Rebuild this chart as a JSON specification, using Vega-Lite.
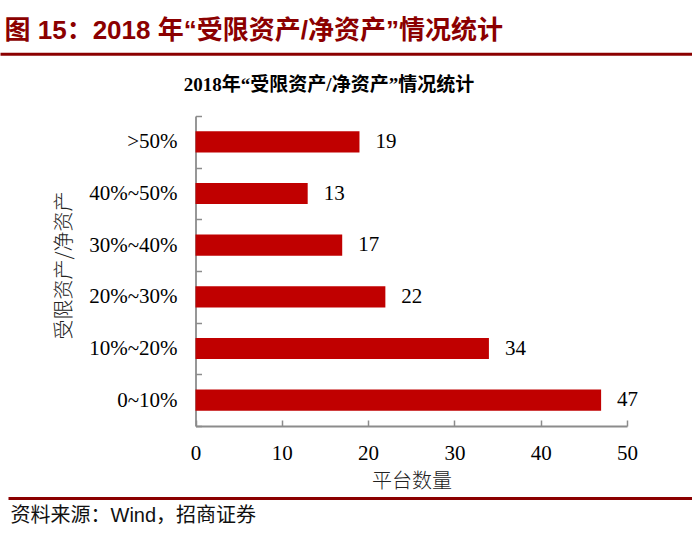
{
  "$schema": "https://vega.github.io/schema/vega-lite/v6.json",
  "width": 692,
  "height": 310,
  "autosize": {"type": "none"},
  "padding": {"top": 116, "bottom": 123, "left": 0, "right": 0},
  "background": "white",
  "config": {"view": {"stroke": null}},
  "data": {
    "values": [
      {"ratio": ">50%", "count": 19},
      {"ratio": "40%~50%", "count": 13},
      {"ratio": "30%~40%", "count": 17},
      {"ratio": "20%~30%", "count": 22},
      {"ratio": "10%~20%", "count": 34},
      {"ratio": "0~10%", "count": 47}
    ]
  },
  "layer": [
    {
      "layer": [
        {
          "mark": {"type": "bar", "color": "#c00000", "height": {"band": 0.41}},
          "encoding": {
            "y": {
              "field": "ratio",
              "type": "nominal",
              "sort": null,
              "scale": {"paddingInner": 0, "paddingOuter": 0},
              "axis": {
                "orient": "left",
                "offset": -195.5,
                "title": "受限资产/净资产",
                "titleFont": "Noto Sans CJK SC",
                "titleFontSize": 20,
                "titleFontWeight": 300,
                "titleColor": "#222222",
                "titleAngle": -90,
                "titleBaseline": "middle",
                "titleAlign": "center",
                "titleX": -131,
                "titleY": 149,
                "labelFont": "Liberation Serif",
                "labelFontSize": 21,
                "labelColor": "#000000",
                "labelPadding": 24.5,
                "tickBand": "extent",
                "tickSize": -6,
                "tickColor": "#8c8c8c",
                "tickWidth": 1.5,
                "domainColor": "#8c8c8c",
                "domainWidth": 1.8,
                "grid": false
              }
            },
            "x": {
              "field": "count",
              "type": "quantitative",
              "scale": {"domain": [0, 50], "range": [195.5, 627], "nice": false},
              "axis": {
                "orient": "bottom",
                "values": [0, 10, 20, 30, 40, 50],
                "title": "平台数量",
                "titleFont": "Noto Sans CJK SC",
                "titleFontSize": 20,
                "titleFontWeight": 300,
                "titleColor": "#222222",
                "titleX": 411.5,
                "titleY": 61,
                "titleBaseline": "alphabetic",
                "titleAlign": "center",
                "labelFont": "Liberation Serif",
                "labelFontSize": 21,
                "labelColor": "#000000",
                "labelPadding": 22,
                "labelFlush": false,
                "tickSize": -6,
                "tickColor": "#8c8c8c",
                "tickWidth": 1.5,
                "domainColor": "#8c8c8c",
                "domainWidth": 1.8,
                "grid": false
              }
            }
          }
        },
        {
          "mark": {
            "type": "text",
            "align": "left",
            "baseline": "middle",
            "dx": 16,
            "font": "Liberation Serif",
            "fontSize": 21,
            "color": "#000000"
          },
          "encoding": {
            "y": {"field": "ratio", "type": "nominal", "sort": null},
            "x": {"field": "count", "type": "quantitative"},
            "text": {"field": "count", "type": "quantitative"}
          }
        }
      ]
    },
    {
      "mark": {"type": "point", "opacity": 0, "size": 0},
      "encoding": {
        "x": {
          "field": "count",
          "type": "quantitative",
          "scale": {"domain": [0, 60], "range": [0, 692], "nice": false},
          "axis": {
            "orient": "top",
            "offset": 62.3,
            "labels": false,
            "ticks": false,
            "grid": false,
            "domainColor": "#8b0000",
            "domainWidth": 3,
            "title": "图 15：2018 年“受限资产/净资产”情况统计",
            "titleFont": "Liberation Sans, Noto Sans CJK SC",
            "titleFontSize": 26,
            "titleFontWeight": "bold",
            "titleColor": "#8b0000",
            "titleAlign": "left",
            "titleBaseline": "alphabetic",
            "titleX": 4,
            "titleY": -15
          }
        }
      }
    },
    {
      "mark": {"type": "point", "opacity": 0, "size": 0},
      "encoding": {
        "x": {
          "field": "count",
          "type": "quantitative",
          "scale": {"domain": [0, 60], "range": [0, 692], "nice": false},
          "axis": {
            "orient": "top",
            "offset": 0,
            "labels": false,
            "ticks": false,
            "domain": false,
            "grid": false,
            "title": "2018年“受限资产/净资产”情况统计",
            "titleFont": "Liberation Serif, Noto Sans CJK SC",
            "titleFontSize": 19,
            "titleFontWeight": "bold",
            "titleColor": "#000000",
            "titleAlign": "center",
            "titleBaseline": "alphabetic",
            "titleX": 328.5,
            "titleY": -26
          }
        }
      }
    },
    {
      "mark": {"type": "point", "opacity": 0, "size": 0},
      "encoding": {
        "x": {
          "field": "count",
          "type": "quantitative",
          "scale": {"domain": [0, 60], "range": [8, 692], "nice": false},
          "axis": {
            "orient": "bottom",
            "offset": 72,
            "labels": false,
            "ticks": false,
            "grid": false,
            "domainColor": "#8b0000",
            "domainWidth": 3,
            "title": "资料来源：Wind，招商证券",
            "titleFont": "Liberation Sans, Noto Sans CJK SC",
            "titleFontSize": 20,
            "titleFontWeight": "normal",
            "titleColor": "#111111",
            "titleAlign": "left",
            "titleBaseline": "alphabetic",
            "titleX": 10,
            "titleY": 23
          }
        }
      }
    }
  ],
  "resolve": {"scale": {"x": "independent"}, "axis": {"x": "independent"}}
}
